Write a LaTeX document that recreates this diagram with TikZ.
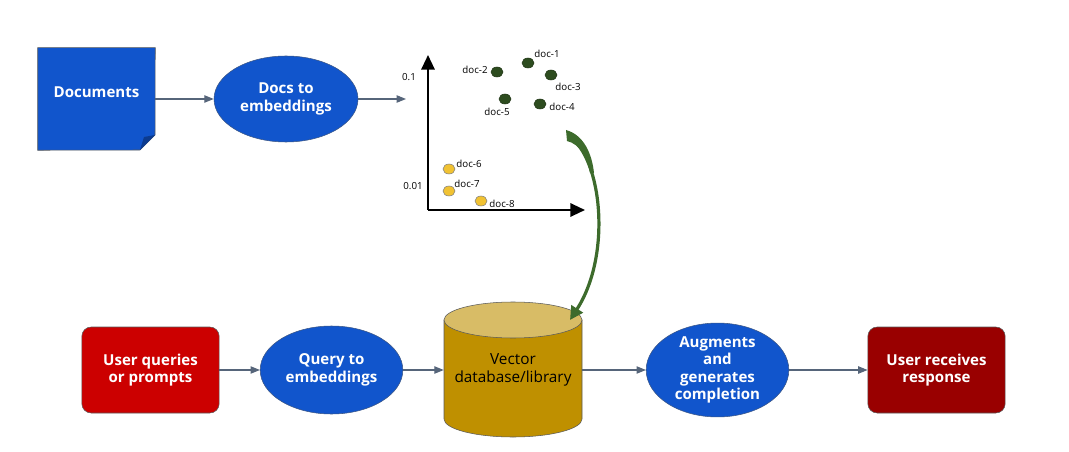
\documentclass[tikz,border=0pt]{standalone}
\usepackage{fontspec}
\setmainfont{Open Sans}
\usetikzlibrary{shapes.geometric, arrows.meta}
\definecolor{docblue}{HTML}{1155CC}
\definecolor{ovaledge}{HTML}{3B5584}
\definecolor{qred}{HTML}{CC0000}
\definecolor{rred}{HTML}{990000}
\definecolor{boxedge}{HTML}{5A5A5A}
\definecolor{flowgray}{HTML}{56657A}
\definecolor{dbgold}{HTML}{BF9000}
\definecolor{dbtop}{HTML}{D8BC66}
\definecolor{dotgreen}{HTML}{2D4C1F}
\definecolor{dotyellow}{HTML}{F1C232}
\definecolor{arrgreen}{HTML}{3D6B2C}

\begin{document}
\begin{tikzpicture}[x=0.75pt, y=-0.75pt,
  lbl/.style = {text=white, font=\bfseries\fontsize{11.3}{13}\selectfont, align=center},
  oval/.style = {ellipse, draw=ovaledge, fill=docblue, inner sep=0pt, lbl},
  rbox/.style = {rectangle, rounded corners=7pt, draw=boxedge, inner sep=0pt,
                 minimum width=103pt, minimum height=64.5pt, lbl},
  flow/.style = {draw=flowgray, line width=0.8pt, -{Triangle[length=7pt, width=5.5pt]}},
  axis/.style = {draw=black, line width=1.6pt, -{Triangle[length=11pt, width=10pt]}},
  gdot/.style = {ellipse, fill=dotgreen, draw=dotgreen!70!black, inner sep=0pt,
                 minimum width=9pt, minimum height=7.5pt},
  ydot/.style = {ellipse, fill=dotyellow, draw=gray, inner sep=0pt,
                 minimum width=9pt, minimum height=7.5pt},
  dlbl/.style = {font=\fontsize{7.3}{8}\selectfont, inner sep=0pt}
]
\useasboundingbox (0,0) rectangle (1069,452);

\node (docs) [minimum width=87.75pt, minimum height=76.5pt, inner sep=0pt] at (96.5,99) {};
\fill[docblue, draw=boxedge, line width=0.4pt] (docs.north west) -- (docs.north east)
  -- (155,135) -- (140,150) -- (docs.south west) -- cycle;
\fill[docblue!70!black] (140,150) -- (144,137) -- (155,135) -- cycle;
\node[lbl] (doctext) at (96.5,92) {Documents};

\node[oval, minimum width=108pt, minimum height=64.5pt] (d2e) at (286,99) {Docs to\\embeddings};
\coordinate (pe) at (406,99);

\draw[flow] (docs.east) -- (d2e.west);
\draw[flow] (d2e.east) -- (pe);

\coordinate (o) at (428,210);
\coordinate (ytop) at (428,55);
\coordinate (xend) at (585,210);
\draw[axis] (o) -- (ytop);
\draw[axis] (o) -- (xend);
\node[dlbl] (t1) at (409,77) {0.1};
\node[dlbl] (t2) at (413,186) {0.01};

\node[gdot] (p1) at (528,63) {};
\node[gdot] (p2) at (497,72) {};
\node[gdot] (p3) at (551,75) {};
\node[gdot] (p4) at (540,104) {};
\node[gdot] (p5) at (505,99) {};
\node[ydot] (p6) at (449,169) {};
\node[ydot] (p7) at (449,191) {};
\node[ydot] (p8) at (481,201) {};

\node[dlbl] (l1) at (547,54) {doc-1};
\node[dlbl] (l2) at (475,70) {doc-2};
\node[dlbl] (l3) at (568,87) {doc-3};
\node[dlbl] (l4) at (562,107) {doc-4};
\node[dlbl] (l5) at (497,112) {doc-5};
\node[dlbl] (l6) at (469,164) {doc-6};
\node[dlbl] (l7) at (467,184) {doc-7};
\node[dlbl] (l8) at (502,204) {doc-8};

\node[rbox, fill=qred] (uq) at (150.5,370) {User queries\\or prompts};
\node[oval, minimum width=107pt, minimum height=66pt] (qe) at (331.5,370) {Query to\\embeddings};

\fill[dbgold, draw=boxedge, line width=0.4pt] (444,320) -- (444,419)
  arc[start angle=180, end angle=0, x radius=69, y radius=18] -- (582,320) -- cycle;
\fill[dbtop, draw=boxedge, line width=0.4pt] (513,320) ellipse [x radius=69, y radius=18];
\node (db) [minimum width=103.5pt, inner sep=0pt, align=center,
  font=\fontsize{11.5}{14}\selectfont] at (513,370) {Vector\\database/library};

\node[oval, minimum width=107pt, minimum height=65pt] (ag) at (717.5,370) {Augments\\and\\generates\\completion};
\node[rbox, fill=rred] (ur) at (936.5,370) {User receives\\response};

\draw[flow] (uq.east) -- (qe.west);
\draw[flow] (qe.east) -- (db.west);
\draw[flow] (db.east) -- (ag.west);
\draw[flow] (ag.east) -- (ur.west);

\coordinate (gs) at (569,136);
\coordinate (ge) at (570,320);
\fill[arrgreen] (566,130) .. controls (584,135) and (592,154) .. (594,173)
  -- (590,173) .. controls (587,158) and (580,144) .. (567,141) -- cycle;
\draw[arrgreen, line width=2.4pt, -{Triangle[length=10pt, width=10pt]}]
  (gs) .. controls (602,158) and (612,255) .. (ge);
\end{tikzpicture}
\end{document}
